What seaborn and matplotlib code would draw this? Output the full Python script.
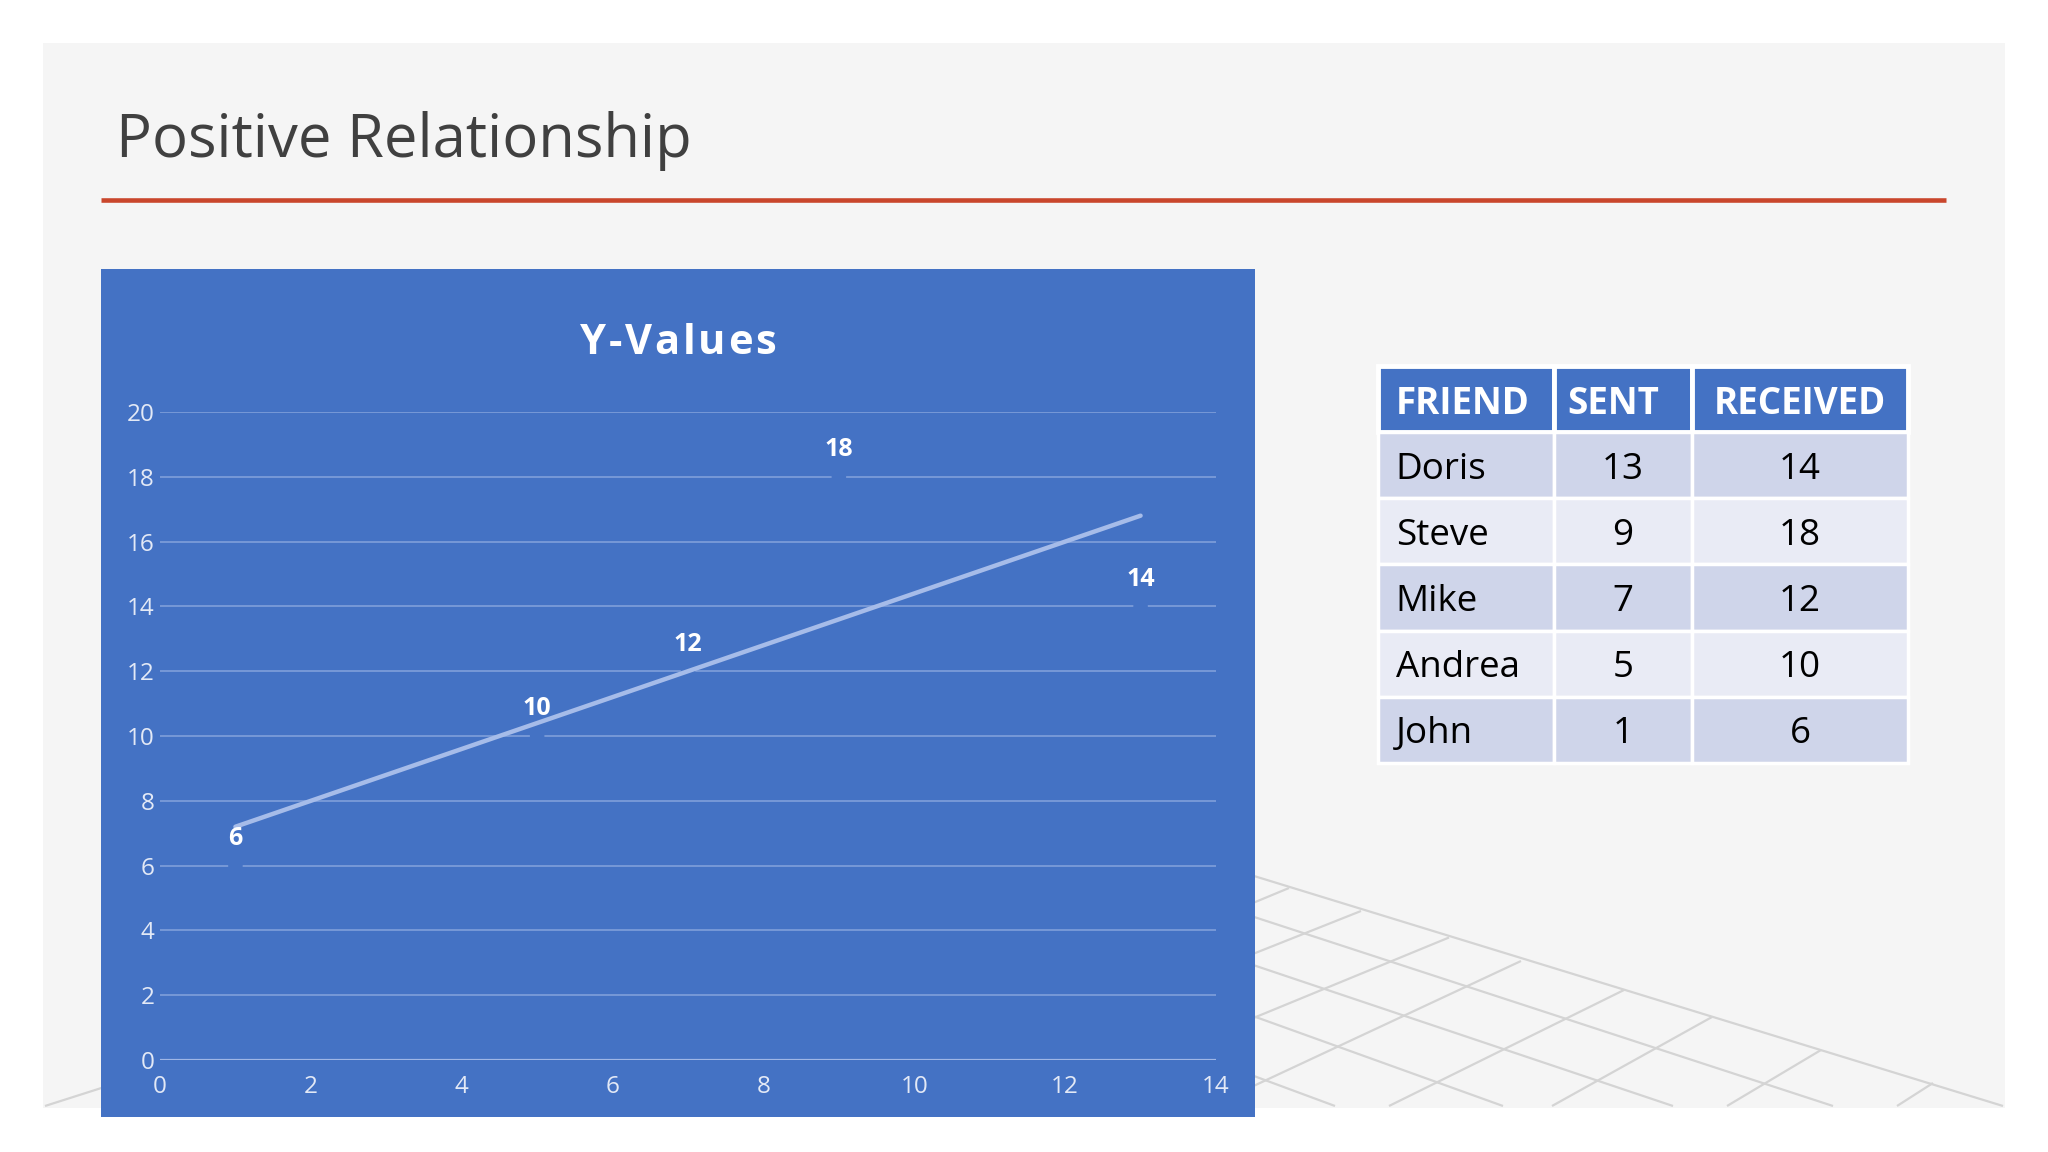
import numpy as np
import pandas as pd
import matplotlib
matplotlib.use("Agg")
import matplotlib.pyplot as plt
from matplotlib.patches import Rectangle
import seaborn as sns

# ---------------- data ----------------
friends = ["Doris", "Steve", "Mike", "Andrea", "John"]
sent = [13, 9, 7, 5, 1]
received = [14, 18, 12, 10, 6]
table_header = ["FRIEND", "SENT", "RECEIVED"]
slide_title = "Positive Relationship"
chart_title = "Y-Values"
x_ticks = [0, 2, 4, 6, 8, 10, 12, 14]
y_ticks = [0, 2, 4, 6, 8, 10, 12, 14, 16, 18, 20]

df = pd.DataFrame({"Friend": friends, "Sent": sent, "Received": received})

# ---------------- style ----------------
sns.set_theme(style="white")
plt.rcParams["font.family"] = ["Open Sans", "DejaVu Sans"]

BLUE = "#4472c4"
W, H = 2048, 1152
fig = plt.figure(figsize=(W / 100, H / 100), dpi=100, facecolor="white")

# background layer (pixel coordinates, y downwards)
bg = fig.add_axes([0, 0, 1, 1])
bg.set_xlim(0, W)
bg.set_ylim(H, 0)
bg.axis("off")
bg.add_patch(Rectangle((43, 43), 1962, 1065, facecolor="#f5f5f5",
                       edgecolor="none", zorder=0))

# decorative perspective floor lines (slide background art)
floor_segments = [
    ((1000, 798), (2003, 1106)),
    ((1000, 834), (1833, 1106)),
    ((1000, 880), (1673, 1106)),
    ((1000, 925), (1503, 1106)),
    ((1000, 982), (1335, 1106)),
    ((1289, 888), (1200, 925)),
    ((1361, 911), (1200, 975)),
    ((1449, 937.5), (1200, 1040)),
    ((1521, 961), (1200, 1111)),
    ((1624, 990), (1389, 1106)),
    ((1712, 1017), (1552, 1106)),
    ((1821, 1050), (1727, 1106)),
    ((1933, 1083), (1897, 1106)),
    ((45, 1106), (1003, 800)),
]
for (x0, y0), (x1, y1) in floor_segments:
    bg.plot([x0, x1], [y0, y1], color="#d4d4d4", lw=1.6, zorder=1,
            solid_capstyle="butt")
# keep floor inside the slide panel
bg.add_patch(Rectangle((0, 1108), W, 50, facecolor="white", edgecolor="none",
                       zorder=1.5))

# title + red rule
bg.text(116, 157, slide_title, fontsize=43, color="#404040", ha="left",
        va="baseline", fontweight="normal", zorder=2)
bg.plot([101, 1946], [200, 200], color="#c9462c", lw=3.3,
        solid_capstyle="butt", zorder=2)

# chart panel
bg.add_patch(Rectangle((101, 269), 1154, 848, facecolor=BLUE,
                       edgecolor="none", zorder=3))

# chart title with letter spacing
renderer = fig.canvas.get_renderer()
tracking = 2.6
parts = []
total = 0.0
for ch in chart_title:
    t = bg.text(0, 344, ch, fontsize=30, color="white", ha="left",
                va="center", fontweight="bold", zorder=4)
    w = t.get_window_extent(renderer=renderer).width
    parts.append((t, w))
    total += w
total += tracking * (len(chart_title) - 1)
xpos = 678 - total / 2
for t, w in parts:
    t.set_x(xpos)
    xpos += w + tracking

# ---------------- chart ----------------
ax = fig.add_axes([160 / W, 1 - 1060 / H, 1056 / W, 648 / H])
ax.patch.set_alpha(0)
ax.set_xlim(0, 14)
ax.set_ylim(0, 20)
ax.set_xticks(x_ticks)
ax.set_yticks(y_ticks)
ax.grid(axis="y", color="#7b9bd8", lw=1.3)
ax.grid(axis="x", visible=False)
ax.set_axisbelow(True)
for s in ax.spines.values():
    s.set_visible(False)
ax.axhline(0, color="#9fb6e6", lw=1.6, zorder=1.5)

sns.scatterplot(data=df, x="Sent", y="Received", ax=ax, color=BLUE, s=110,
                marker="o", edgecolor="none", zorder=3, legend=False)
sns.regplot(data=df, x="Sent", y="Received", ax=ax, scatter=False, ci=None,
            truncate=True,
            line_kws=dict(color="#a6bce9", lw=3.2, solid_capstyle="round",
                          zorder=4))
for xv, yv in zip(sent, received):
    ax.annotate(str(yv), (xv, yv), xytext=(0, 19.5), textcoords="offset points",
                ha="center", va="center", color="white", fontsize=18,
                fontweight="bold", zorder=5)

ax.set_xlabel("")
ax.set_ylabel("")
ax.tick_params(axis="both", length=0, labelsize=17.5, labelcolor="#e3e9f6")
ax.tick_params(axis="y", pad=4)
ax.tick_params(axis="x", pad=11)

# ---------------- table ----------------
tax = fig.add_axes([1378 / W, 1 - 763 / H, 530 / W, 397 / H])
tax.axis("off")
cell_text = [[f, str(s), str(r)] for f, s, r in zip(friends, sent, received)]
tbl = tax.table(cellText=cell_text, colLabels=table_header, bbox=[0, 0, 1, 1],
                colWidths=[176 / 530, 138 / 530, 216 / 530])
tbl.auto_set_font_size(False)
tbl.set_fontsize(26.5)
for (r, c), cell in tbl.get_celld().items():
    cell.set_edgecolor("white")
    cell.set_linewidth(2.5)
    txt = cell.get_text()
    txt.set_va("center_baseline")
    if r == 0:
        cell.set_facecolor(BLUE)
        cell.set_linewidth(3.5)
        txt.set_color("white")
        txt.set_fontweight("bold")
        cell._loc = "left"
        txt.set_ha("left")
    else:
        cell.set_facecolor("#cfd5ea" if r % 2 == 1 else "#e9ebf5")
        txt.set_color("black")
        if c == 0:
            cell._loc = "left"
            txt.set_ha("left")
        else:
            cell._loc = "center"
            txt.set_ha("center")

fig.savefig("out.png", dpi=100, facecolor="white")
